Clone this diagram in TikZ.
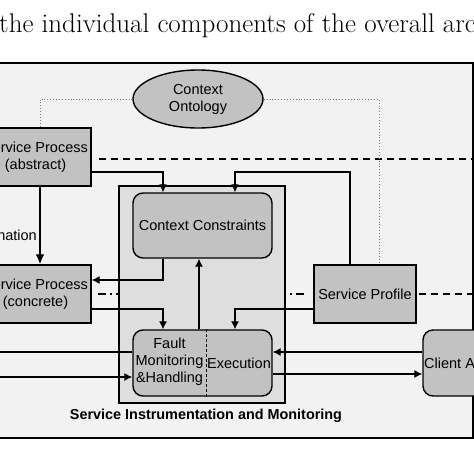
\documentclass[tikz,border=0pt]{standalone}
\usepackage{fontspec}
\setsansfont{Liberation Sans}
\usepackage{tikz}
\usetikzlibrary{shapes.geometric,arrows.meta,calc,positioning}

\definecolor{bgcol}{gray}{0.95}
\definecolor{siamcol}{gray}{0.87}
\definecolor{boxcol}{gray}{0.76}

\tikzset{
  lab/.style={font=\sffamily\fontsize{14.5}{17}\selectfont, align=center, inner sep=0pt},
  box/.style={lab, draw, line width=1.4pt, fill=boxcol},
  rbox/.style={box, rounded corners=10pt},
  arr/.style={-{Latex[length=8pt,width=8pt]}, line width=1.1pt},
  dotlink/.style={dotted, gray, line width=0.9pt},
}

\begin{document}
\begin{tikzpicture}[x=1pt,y=-1pt]
\useasboundingbox (0,0) rectangle (474,474);
\clip (0,0) rectangle (474,474);
% caption text above the figure
\node[anchor=base west, inner sep=0pt, font=\fontsize{27}{32}\selectfont] (cap) at (-1,32)
  {the individual components of the overall arc};
\draw[line width=1.6pt, fill=bgcol] (-10,63) rectangle (473,438);

% routing columns
\coordinate (xa) at (163,0);
\coordinate (xb) at (235,0);
\coordinate (xc) at (199,0);
\coordinate (xd) at (350,0);
\coordinate (xe) at (379,0);
\coordinate (xf) at (40,0);
\coordinate (ya) at (0,172);
\coordinate (ddash) at (480,159);
\coordinate (rdash) at (480,294);
\coordinate (l1) at (-12,352);
\coordinate (l2) at (-12,377);

\node[box, ellipse, minimum width=130pt, minimum height=58pt] (onto) at (198,99) {Context\\Ontology};
\node[box, minimum width=111pt, minimum height=58pt] (spabs) at (35.5,157) {Service Process\\(abstract)};
\node[box, minimum width=111pt, minimum height=58pt] (spcon) at (35.5,294) {Service Process\\(concrete)};
\node[box, minimum width=102pt, minimum height=58pt] (sprof) at (365,294) {Service Profile};

\draw[line width=1.8pt, dash pattern=on 8pt off 4pt on 2pt off 4pt] ($(spcon.east)+(6,0)$) -- ($(sprof.west)+(-6,0)$);
\draw[line width=1.8pt, dash pattern=on 7pt off 5pt] ($(sprof.east)+(2,0)$) -- (rdash);
\draw[line width=1.8pt, dash pattern=on 7pt off 5pt] ($(spabs.east)+(7,2)$) -- (ddash);

\node[draw, line width=1.4pt, fill=siamcol, minimum width=166pt, minimum height=217pt] (siam) at (202,294.5) {};
\node[rbox, minimum width=139pt, minimum height=65pt] (cc) at (202.5,225.5) {Context Constraints};
\node[rbox, minimum width=139pt, minimum height=66pt] (fault) at (202.5,363) {};
\node[lab] (fmtext) at (169.5,362) {Fault\\Monitoring\\\&Handling};
\node[lab] (extext) at (239,363) {Execution};
\coordinate (div) at (206,363);
\draw[dashed, line width=0.9pt, dash pattern=on 3pt off 2pt] (fault.north -| div) -- (fault.south -| div);
\node[rbox, minimum width=115pt, minimum height=66pt] (client) at (480.5,363) {};
\node[lab, anchor=west] (cltext) at (424,363) {Client A};
\node[lab, font=\sffamily\bfseries\fontsize{14.4}{17}\selectfont] (title) at (206,416) {Service Instrumentation and Monitoring};
\node[lab, anchor=east] (lbl) at (37,235) {nation};

\draw[dotlink] (onto.west) -| (spabs.north -| xf);
\draw[dotlink] (onto.east) -| (sprof.north -| xe);
\draw[-{Latex[length=10pt,width=9pt]}, line width=2.4pt] (spabs.south -| xf) -- (spcon.north -| xf);
\draw[arr] (spabs.east |- ya) -| (cc.north -| xa);
\draw[arr] (sprof.north -| xd) |- (xb |- ya) -- (cc.north -| xb);
\draw[arr] (cc.south -| xa) |- ([yshift=14pt]spcon.east);
\draw[arr] (fault.north -| xc) -- (cc.south -| xc);
\draw[arr] ([yshift=-15pt]spcon.east) -| (fault.north -| xa);
\draw[arr] ([yshift=-15pt]sprof.west) -| (fault.north -| xb);
\draw[arr] ([yshift=11pt]client.west) -- ([yshift=11pt]fault.east);
\draw[arr] ([yshift=-11pt]fault.east) -- ([yshift=-11pt]client.west);
\draw[arr] ([yshift=11pt]fault.west) -- (l1);
\draw[arr] (l2) -- ([yshift=-14pt]fault.west);
\end{tikzpicture}
\end{document}
